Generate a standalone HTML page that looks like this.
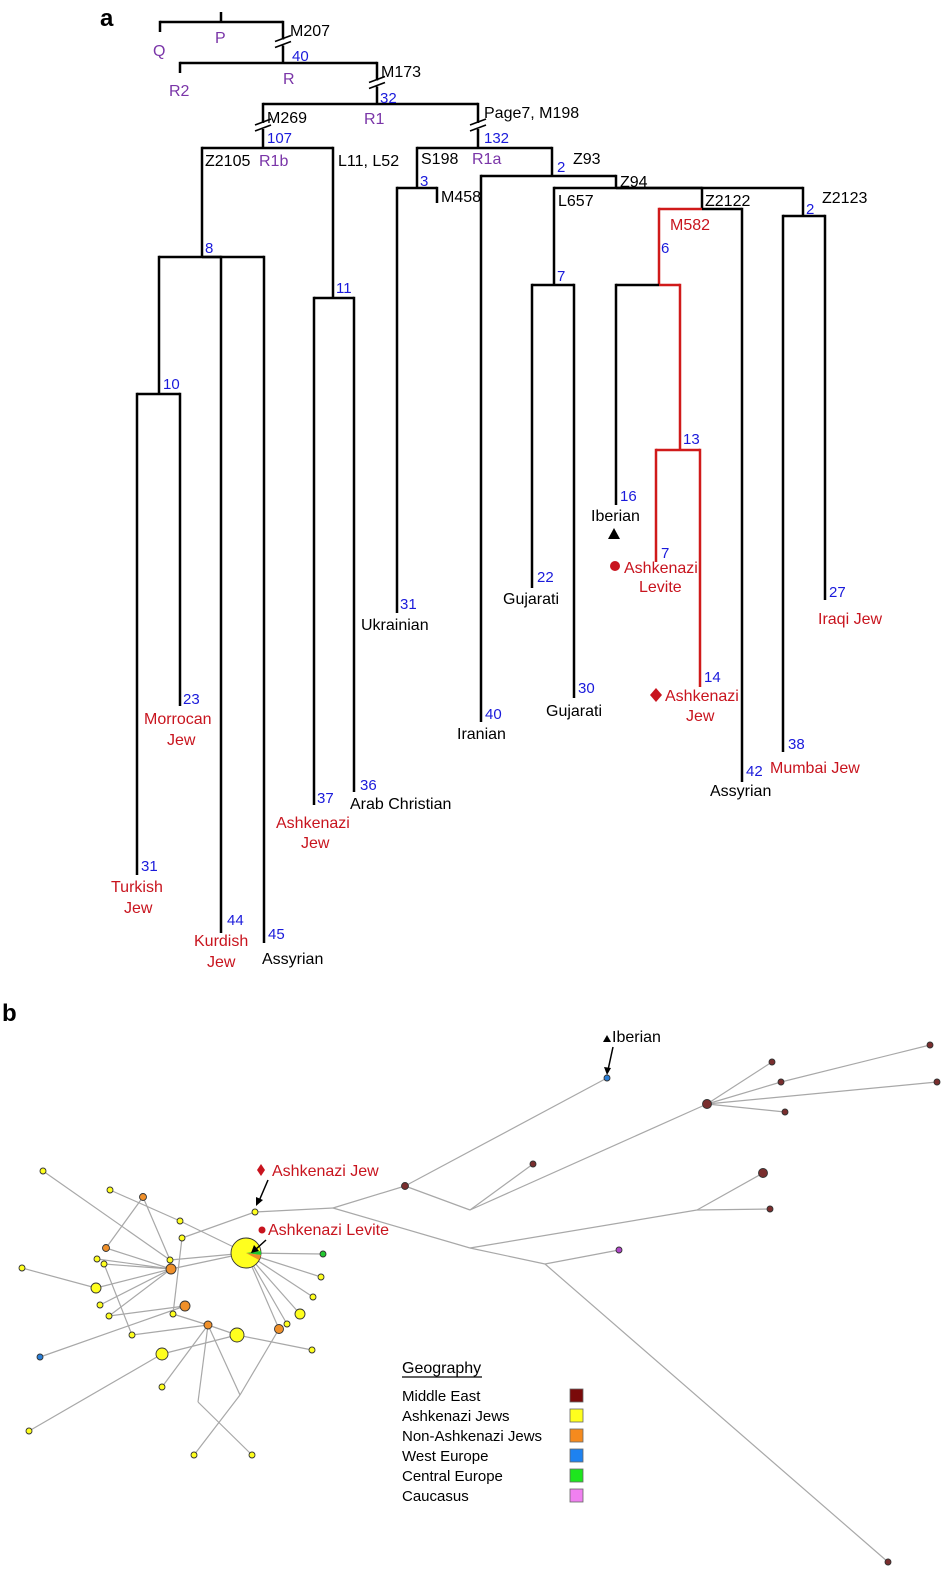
<!DOCTYPE html>
<html><head><meta charset="utf-8">
<style>
html,body{margin:0;padding:0;background:#fff;}
svg{display:block;font-family:"Liberation Sans",Arial,sans-serif;}
.b{fill:#1a1adb;font-size:15px}
.k{fill:#000;font-size:16px}
.r{fill:#c8141e;font-size:16px}
.p{fill:#7a35a8;font-size:16px}
</style></head>
<body>
<svg id="fig" width="946" height="1575" viewBox="0 0 946 1575" xmlns="http://www.w3.org/2000/svg">
<text x="100" y="26" font-size="24" font-weight="bold">a</text>
<g id="tree"></g>
<g id="treelabels">
<text class="p" x="153" y="56">Q</text><text class="p" x="215" y="43">P</text>
<text class="k" x="290" y="36">M207</text><text class="b" x="292" y="61">40</text>
<text class="p" x="169" y="96">R2</text><text class="p" x="283" y="84">R</text>
<text class="k" x="381" y="77">M173</text><text class="b" x="380" y="103">32</text>
<text class="p" x="364" y="124">R1</text>
<text class="k" x="267" y="123">M269</text><text class="b" x="267" y="143">107</text>
<text class="k" x="484" y="118">Page7, M198</text><text class="b" x="484" y="143">132</text>
<text class="k" x="205" y="166">Z2105</text><text class="p" x="259" y="166">R1b</text>
<text class="k" x="338" y="166">L11, L52</text>
<text class="k" x="421" y="164">S198</text><text class="p" x="472" y="164">R1a</text>
<text class="b" x="420" y="186">3</text><text class="k" x="441" y="202" font-size="13">M458</text>
<text class="b" x="557" y="172">2</text><text class="k" x="573" y="164">Z93</text>
<text class="k" x="620" y="187">Z94</text><text class="k" x="558" y="206">L657</text>
<text class="k" x="705" y="206">Z2122</text><text class="b" x="806" y="214">2</text><text class="k" x="822" y="203">Z2123</text>
<text class="r" x="670" y="230">M582</text><text class="b" x="661" y="253">6</text>
<text class="b" x="205" y="253">8</text><text class="b" x="336" y="293">11</text>
<text class="b" x="557" y="281">7</text><text class="b" x="163" y="389">10</text>
<text class="b" x="683" y="444">13</text>
<text class="b" x="620" y="501">16</text><text class="k" x="591" y="521">Iberian</text>
<path d="M608 539 L614 528 L620 539 Z" fill="#000"/>
<text class="b" x="661" y="558">7</text>
<circle cx="615" cy="566" r="5" fill="#c8141e"/>
<text class="r" x="624" y="573">Ashkenazi</text><text class="r" x="639" y="592">Levite</text>
<text class="b" x="537" y="582">22</text><text class="k" x="503" y="604">Gujarati</text>
<text class="b" x="829" y="597">27</text><text class="r" x="818" y="624">Iraqi Jew</text>
<text class="b" x="400" y="609">31</text><text class="k" x="361" y="630">Ukrainian</text>
<text class="b" x="704" y="682">14</text>
<path d="M656 688 L662 695 L656 702 L650 695 Z" fill="#c8141e"/>
<text class="r" x="665" y="701">Ashkenazi</text><text class="r" x="686" y="721">Jew</text>
<text class="b" x="578" y="693">30</text><text class="k" x="546" y="716">Gujarati</text>
<text class="b" x="183" y="704">23</text><text class="r" x="144" y="724">Morrocan</text><text class="r" x="167" y="745">Jew</text>
<text class="b" x="485" y="719">40</text><text class="k" x="457" y="739">Iranian</text>
<text class="b" x="788" y="749">38</text><text class="r" x="770" y="773">Mumbai Jew</text>
<text class="b" x="746" y="776">42</text><text class="k" x="710" y="796">Assyrian</text>
<text class="b" x="360" y="790">36</text><text class="k" x="350" y="809">Arab Christian</text>
<text class="b" x="317" y="803">37</text><text class="r" x="276" y="828">Ashkenazi</text><text class="r" x="301" y="848">Jew</text>
<text class="b" x="141" y="871">31</text><text class="r" x="111" y="892">Turkish</text><text class="r" x="124" y="913">Jew</text>
<text class="b" x="227" y="925">44</text><text class="r" x="194" y="946">Kurdish</text><text class="r" x="207" y="967">Jew</text>
<text class="b" x="268" y="939">45</text><text class="k" x="262" y="964">Assyrian</text>
</g>

<text x="2" y="1021" font-size="24" font-weight="bold">b</text>
<g id="net"></g>
<g>
<path d="M261 1164 L265 1170 L261 1176 L257 1170 Z" fill="#c8141e"/>
<text class="r" x="272" y="1176">Ashkenazi Jew</text>
<line x1="268" y1="1180" x2="259" y2="1201" stroke="#000" stroke-width="1.5"/>
<path d="M256 1206 L256 1197 L263 1200 Z" fill="#000"/>
<circle cx="262" cy="1230" r="3.5" fill="#c8141e"/>
<text class="r" x="268" y="1235" font-size="15">Ashkenazi Levite</text>
<line x1="266" y1="1240" x2="255" y2="1250" stroke="#000" stroke-width="1.5"/>
<path d="M251 1253 L254 1245 L259 1251 Z" fill="#000"/>
<path d="M603 1042 L607 1035 L611 1042 Z" fill="#000"/>
<text class="k" x="612" y="1042">Iberian</text>
<line x1="613" y1="1047" x2="608" y2="1070" stroke="#000" stroke-width="1.5"/>
<path d="M607 1075 L604 1067 L611 1068 Z" fill="#000"/>
</g>
<g id="legend">
<text class="k" x="402" y="1373">Geography</text>
<line x1="402" y1="1377" x2="482" y2="1377" stroke="#000" stroke-width="1.2"/>
</g>
</svg>
<script>
var treeX=[221,160,283,180,377,263,478,202,333,159,221,264,137,180,314,354,417,552,397,437,481,616,554,702,803,532,574,659,742,616,680,656,700,783,825];
var treeY=[22,32,63,73,104,148,148,257,298,394,933,943,875,706,805,792,188,176,613,203,722,188,285,209,216,588,698,285,782,505,450,562,687,752,600];
var treeParent=[-1,0,0,2,2,4,4,5,5,7,7,7,9,9,8,8,6,6,16,16,17,17,21,21,21,22,22,23,23,27,27,30,30,24,24];
var treeRed=[27,30,31,32];
var treeBreaks=[2,4,5,6];
var NS='http://www.w3.org/2000/svg';
function mk(tag,attrs,parent){var e=document.createElementNS(NS,tag);for(var k in attrs)e.setAttribute(k,attrs[k]);parent.appendChild(e);return e;}
var tg=document.getElementById('tree');
mk('line',{x1:221,y1:12,x2:221,y2:22,stroke:'#000','stroke-width':2.5},tg);
for(var i=1;i<treeX.length;i++){
  var p=treeParent[i];var col=treeRed.indexOf(i)>=0?'#d01a1a':'#000';
  var h=mk('line',{x1:treeX[p],y1:treeY[p],x2:treeX[i],y2:treeY[p],stroke:col,'stroke-width':2.5},tg);
  
  
  var v=mk('line',{x1:treeX[i],y1:treeY[p]-1.2,x2:treeX[i],y2:treeY[i],stroke:col,'stroke-width':2.5},tg);
  
  
  if(treeBreaks.indexOf(i)>=0){
    var m=(treeY[p]+treeY[i])/2;
    mk('rect',{x:treeX[i]-8,y:m-3,width:16,height:6,fill:'#fff'},tg);
    mk('line',{x1:treeX[i]-8,y1:m-1,x2:treeX[i]+8,y2:m-7,stroke:'#000','stroke-width':1.6},tg);
    mk('line',{x1:treeX[i]-8,y1:m+5,x2:treeX[i]+8,y2:m-1,stroke:'#000','stroke-width':1.6},tg);
  }
}
var COL={y:'#ffff1e',o:'#f0902a',m:'#7a2e2e',b:'#2a7fd8',g:'#22c830',p:'#b048c8',j:'none'};
var netX=[43,110,143,180,182,255,106,97,104,22,96,170,171,246,323,321,313,300,100,109,185,173,208,237,287,279,132,312,40,162,162,29,194,252,240,198,
333,405,607,470,533,707,772,781,785,937,930,470,697,763,770,545,619,888];
var netY=[1171,1190,1197,1221,1238,1212,1248,1259,1264,1268,1288,1260,1269,1253,1254,1277,1297,1314,1305,1316,1306,1314,1325,1335,1324,1329,1335,1350,1357,1354,1387,1431,1455,1455,1395,1402,
1208,1186,1078,1210,1164,1104,1062,1082,1112,1082,1045,1248,1210,1173,1209,1264,1250,1562];
var netR=[3,3,3.5,3,3,3,3.5,3,3,3,5,3,5,15,3,3,3,5,3,3,5,3,4,7,3,4.5,3,3,3,6,3,3,3,3,0,0,
0,3.5,3,0,3,4.5,3,3,3,3,3,0,0,4.5,3,0,3,3];
var netC=['y','y','o','y','y','y','o','y','y','y','y','y','o','y','g','y','y','y','y','y','o','y','o','y','y','o','y','y','b','y','y','y','y','y','j','j',
'j','m','b','j','m','m','m','m','m','m','m','j','j','m','m','j','p','m'];
var netEdges=[[0,11],[1,3],[3,13],[2,6],[2,11],[6,12],[8,12],[7,12],[8,26],[9,10],[10,12],[18,12],[19,12],[19,20],[11,13],[12,13],[4,5],[4,21],[21,22],[28,20],
[26,22],[22,23],[23,29],[23,27],[22,30],[22,34],[25,34],[34,32],[22,35],[35,33],[29,31],[13,14],[13,15],[13,16],[13,17],[13,24],[13,25],
[5,36],[36,37],[36,47],[37,38],[37,39],[39,40],[39,41],[41,42],[41,43],[41,44],[41,45],[43,46],[47,48],[48,49],[48,50],[47,51],[51,52],[51,53]];
var ng=document.getElementById('net');
for(var e=0;e<netEdges.length;e++){
  var a=netEdges[e][0],b=netEdges[e][1];
  var l=mk('line',{x1:netX[a],y1:netY[a],x2:netX[b],y2:netY[b],stroke:'#a8a8a8','stroke-width':1.2},ng);
  
  
}
for(var n=0;n<netX.length;n++){
  if(netR[n]<=0)continue;
  var c=mk('circle',{cx:netX[n],cy:netY[n],r:netR[n],fill:COL[netC[n]],stroke:'#333','stroke-width':0.9},ng);
  
  
}
mk('path',{d:'M246 1253 L261 1251 A15 15 0 0 1 261 1255 Z',fill:'#22c830'},ng);
mk('path',{d:'M246 1253 L261 1255 A15 15 0 0 1 259 1260 Z',fill:'#f0902a'},ng);
var legLabels=['Middle East','Ashkenazi Jews','Non-Ashkenazi Jews','West Europe','Central Europe','Caucasus'];
var legColors=['#7a0a0a','#ffff1e','#f58a1e','#1e82f0','#1ee61e','#f080f0'];
var lg=document.getElementById('legend');
for(var k=0;k<legLabels.length;k++){
  var t=mk('text',{x:402,y:1401+k*20,'font-size':15,fill:'#000'},lg);
  t.textContent=legLabels[k];
  
  
  var s=mk('rect',{x:570,y:1389+k*20,width:13,height:13,fill:legColors[k],stroke:'#666','stroke-width':0.8},lg);
  
  
}
</script>
</body></html>
